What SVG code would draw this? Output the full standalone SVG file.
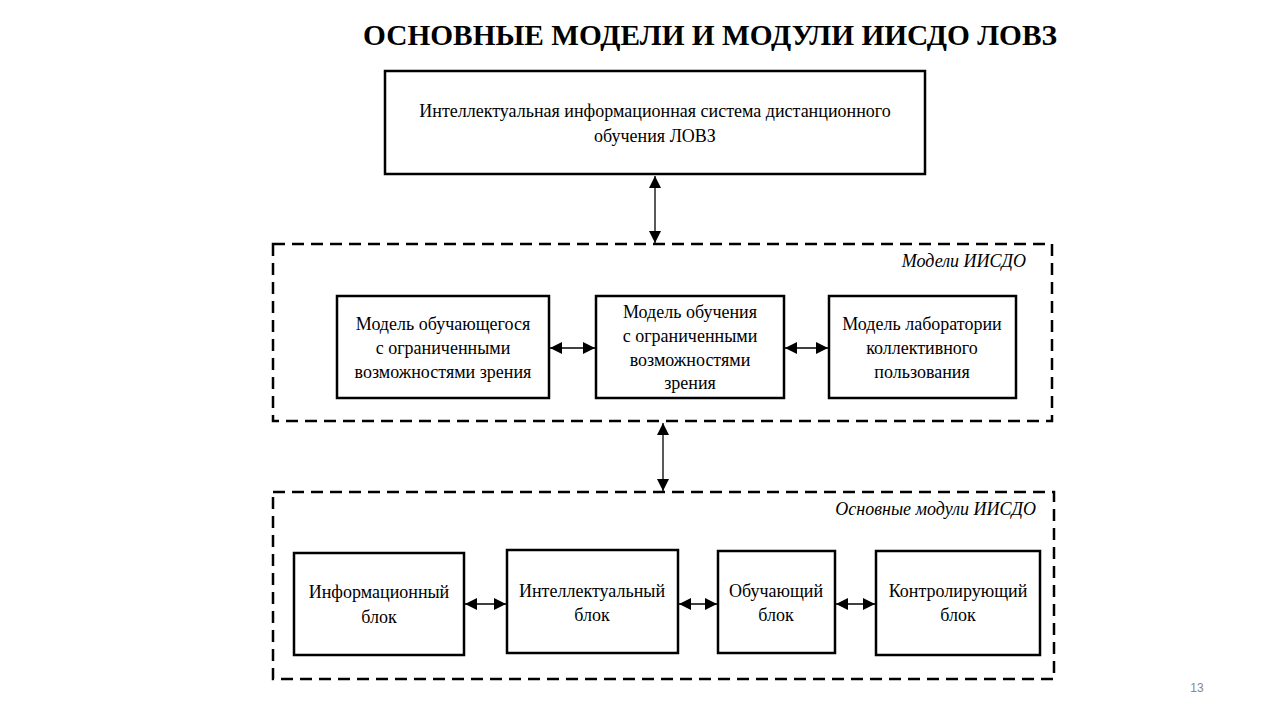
<svg xmlns="http://www.w3.org/2000/svg" width="1280" height="720" viewBox="0 0 1280 720">
<defs>
<marker id="ahs" viewBox="0 0 10 10" refX="10" refY="5" markerWidth="14" markerHeight="12" markerUnits="userSpaceOnUse" orient="auto-start-reverse">
<path d="M0,0 L10,5 L0,10 z" fill="#000"/>
</marker>
</defs>
<style>
.box{fill:#fff;stroke:#000;stroke-width:2.5}
.grp{fill:none;stroke:#000;stroke-width:2.5;stroke-dasharray:12 7}
.t{font-family:"Liberation Serif","Times New Roman",serif;font-size:18px;fill:#000;text-anchor:middle}
.lbl{font-family:"Liberation Serif","Times New Roman",serif;font-size:18px;font-style:italic;fill:#000;text-anchor:end}
.title{font-family:"Liberation Serif","Times New Roman",serif;font-size:30px;font-weight:bold;fill:#000;text-anchor:middle}
.pg{font-family:"Liberation Sans",Arial,sans-serif;font-size:12px;fill:#888;text-anchor:middle}
.c{stroke:#000;stroke-width:1.3;fill:none}
</style>
<rect width="1280" height="720" fill="#fff"/>
<text class="title" x="710" y="45" textLength="694" lengthAdjust="spacingAndGlyphs">ОСНОВНЫЕ МОДЕЛИ И МОДУЛИ ИИСДО ЛОВЗ</text>

<g id="group-models">
<rect class="grp" x="273" y="244" width="779" height="177"/>
<text class="lbl" x="1026" y="267">Модели ИИСДО</text>
</g>
<g id="group-modules">
<rect class="grp" x="273" y="492" width="781" height="187"/>
<text class="lbl" x="1036" y="515">Основные модули ИИСДО</text>
</g>

<g id="connectors">
<line class="c" x1="655" y1="176" x2="655" y2="243" marker-start="url(#ahs)" marker-end="url(#ahs)"/>
<line class="c" x1="663" y1="423" x2="663" y2="491" marker-start="url(#ahs)" marker-end="url(#ahs)"/>
<line class="c" x1="550" y1="348" x2="595" y2="348" marker-start="url(#ahs)" marker-end="url(#ahs)"/>
<line class="c" x1="785" y1="348" x2="828" y2="348" marker-start="url(#ahs)" marker-end="url(#ahs)"/>
<line class="c" x1="465" y1="604" x2="506" y2="604" marker-start="url(#ahs)" marker-end="url(#ahs)"/>
<line class="c" x1="679" y1="604" x2="717" y2="604" marker-start="url(#ahs)" marker-end="url(#ahs)"/>
<line class="c" x1="836" y1="604" x2="875" y2="604" marker-start="url(#ahs)" marker-end="url(#ahs)"/>
</g>

<g id="iisdo">
<rect class="box" x="385" y="71" width="540" height="103"/>
<text class="t" x="655" y="117">Интеллектуальная информационная система дистанционного</text>
<text class="t" x="655" y="142">обучения ЛОВЗ</text>
</g>

<g id="model-learner">
<rect class="box" x="337" y="296" width="212" height="102"/>
<text class="t" x="443" y="330">Модель обучающегося</text>
<text class="t" x="443" y="354">с ограниченными</text>
<text class="t" x="443" y="378">возможностями зрения</text>
</g>
<g id="model-learning">
<rect class="box" x="596" y="296" width="188" height="102"/>
<text class="t" x="690" y="318">Модель обучения</text>
<text class="t" x="690" y="342">с ограниченными</text>
<text class="t" x="690" y="366">возможностями</text>
<text class="t" x="690" y="389">зрения</text>
</g>
<g id="model-lab">
<rect class="box" x="829" y="296" width="187" height="102"/>
<text class="t" x="922" y="330">Модель лаборатории</text>
<text class="t" x="922" y="354">коллективного</text>
<text class="t" x="922" y="378">пользования</text>
</g>

<g id="block-info">
<rect class="box" x="294" y="553" width="170" height="102"/>
<text class="t" x="379" y="598">Информационный</text>
<text class="t" x="379" y="623">блок</text>
</g>
<g id="block-intel">
<rect class="box" x="507" y="550" width="171" height="103"/>
<text class="t" x="592" y="597">Интеллектуальный</text>
<text class="t" x="592" y="621">блок</text>
</g>
<g id="block-teach">
<rect class="box" x="718" y="551" width="117" height="102"/>
<text class="t" x="776" y="597">Обучающий</text>
<text class="t" x="776" y="621">блок</text>
</g>
<g id="block-control">
<rect class="box" x="876" y="551" width="164" height="104"/>
<text class="t" x="958" y="597">Контролирующий</text>
<text class="t" x="958" y="621">блок</text>
</g>

<text class="pg" x="1197" y="692">13</text>
</svg>
